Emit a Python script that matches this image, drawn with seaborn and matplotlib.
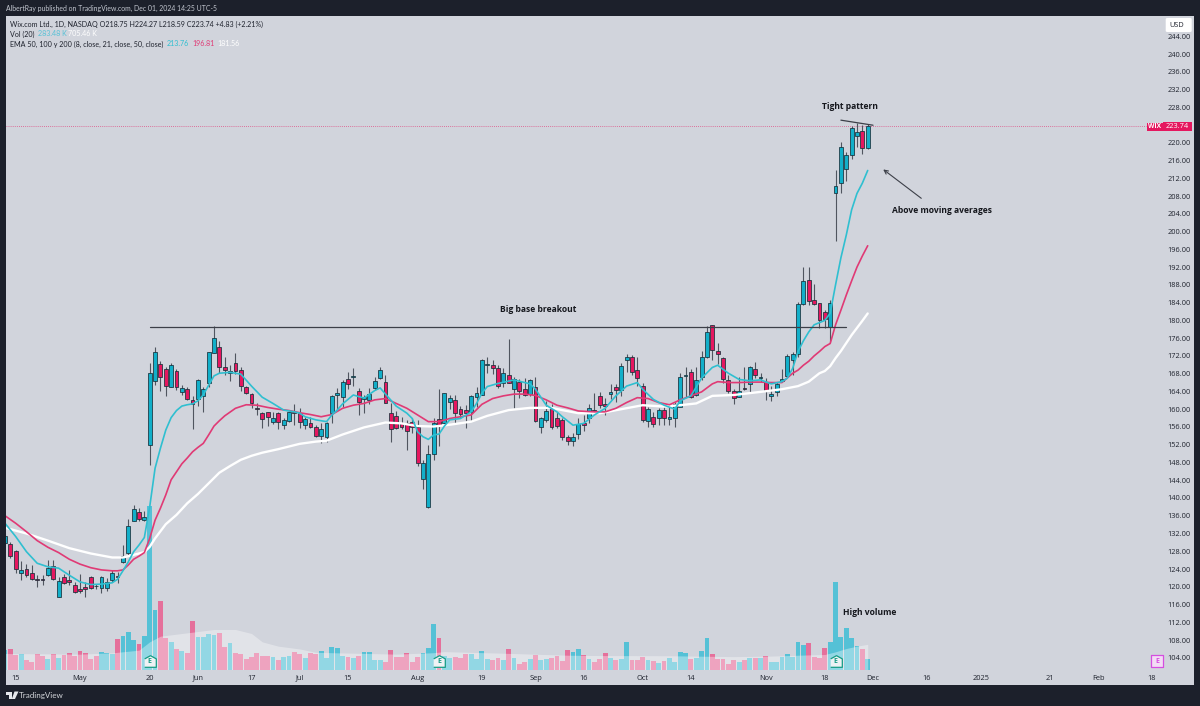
import numpy as np
import pandas as pd
import matplotlib
matplotlib.use("Agg")
import matplotlib.pyplot as plt
from matplotlib.patches import Rectangle, FancyBboxPatch, Polygon
import seaborn as sns

# daily bars, index 0 = May 20
bars = list(range(-27, 135))

opens = [
    129.9, 129.6, 128.1, 123.1, 123.9, 123.1, 121.8, 121.8, 122.6, 124.6,
    117.8, 122.3, 121.5, 120.3, 119.4, 120.0, 122.1, 120.2, 119.8, 119.8,
    121.5, 122.4, 125.6, 127.5, 134.9, 136.8, 135.1, 152.0, 166.3, 170.2,
    169.0, 165.1, 168.5, 163.9, 164.6, 162.1, 162.3, 163.0, 165.8, 172.6,
    174.0, 169.6, 168.1, 170.5, 168.9, 164.9, 163.4, 160.3, 159.2, 159.3,
    157.2, 159.1, 156.4, 157.4, 159.4, 159.2, 156.4, 157.0, 155.9, 153.9,
    153.8, 159.2, 163.3, 162.8, 166.8, 167.3, 164.2, 162.2, 162.0, 164.8,
    167.0, 166.1, 159.2, 158.4, 156.8, 157.0, 157.2, 156.0, 144.3, 137.9,
    149.9, 157.9, 157.0, 161.7, 162.1, 160.0, 159.8, 159.3, 162.8, 163.3,
    170.0, 169.9, 169.3, 166.0, 167.7, 164.5, 166.1, 164.6, 163.4, 164.9,
    156.0, 157.5, 160.3, 158.0, 157.6, 153.7, 152.8, 154.5, 157.0, 158.0,
    159.8, 163.0, 161.2, 163.5, 165.0, 164.3, 171.1, 171.7, 168.8, 165.2,
    157.4, 158.2, 158.0, 159.8, 157.7, 158.0, 160.6, 167.4, 168.4, 163.3,
    167.3, 171.7, 179.0, 173.0, 171.5, 166.6, 164.0, 162.8, 164.7, 165.7,
    169.0, 167.0, 166.1, 163.0, 163.8, 166.3, 167.5, 171.1, 172.4, 183.6,
    189.0, 184.5, 184.0, 181.8, 178.6, 208.8, 210.9, 214.0, 217.3, 221.5, 222.7, 218.75,
]
highs = [
    132.1, 130.2, 128.3, 125.8, 125.1, 124.9, 122.6, 122.6, 126.1, 126.1,
    122.1, 122.9, 123.8, 121.1, 122.9, 121.1, 122.4, 120.6, 122.4, 122.0,
    123.7, 123.4, 129.4, 135.3, 138.4, 137.8, 137.0, 170.4, 174.0, 170.9,
    169.6, 170.3, 169.0, 165.4, 165.1, 163.0, 166.7, 165.1, 172.8, 178.7,
    175.4, 171.7, 170.0, 172.6, 169.6, 165.2, 163.6, 161.3, 159.4, 159.4,
    159.4, 159.4, 158.1, 159.4, 161.2, 160.2, 158.2, 158.2, 156.4, 156.8,
    157.2, 163.2, 164.8, 166.6, 168.4, 169.2, 164.8, 163.2, 164.7, 167.2,
    169.6, 167.7, 161.3, 159.7, 158.2, 157.6, 158.0, 157.6, 148.6, 151.9,
    158.0, 164.5, 163.7, 163.2, 163.2, 160.7, 160.9, 163.2, 165.1, 171.2,
    171.8, 171.1, 170.0, 169.2, 175.7, 167.2, 166.7, 167.0, 166.9, 167.2,
    158.3, 161.8, 161.2, 159.4, 158.0, 154.2, 154.6, 158.0, 158.6, 161.1,
    163.6, 163.9, 162.5, 165.7, 165.7, 170.3, 172.4, 172.2, 171.7, 165.8,
    160.4, 159.4, 160.2, 160.6, 160.6, 161.7, 168.1, 169.6, 169.0, 169.4,
    173.2, 178.7, 179.0, 174.8, 171.8, 167.7, 164.5, 167.3, 169.4, 169.7,
    170.7, 168.2, 167.0, 165.2, 166.2, 169.0, 172.4, 172.9, 184.2, 192.0,
    192.0, 188.2, 184.0, 182.3, 184.6, 213.9, 220.1, 217.9, 223.8, 224.4, 224.0, 224.27,
]
lows = [
    129.6, 126.5, 123.2, 121.5, 122.3, 121.5, 120.0, 120.4, 122.4, 121.5,
    117.8, 120.6, 120.4, 118.7, 118.7, 117.6, 119.4, 119.6, 118.7, 119.1,
    121.1, 120.9, 125.4, 127.2, 134.9, 134.9, 134.9, 147.5, 165.4, 164.1,
    163.0, 165.1, 164.3, 163.3, 162.1, 155.5, 160.7, 159.3, 165.1, 172.6,
    168.2, 167.7, 166.3, 167.9, 164.1, 163.4, 160.2, 158.7, 155.8, 156.2,
    156.7, 155.5, 155.5, 157.2, 156.4, 155.7, 155.5, 155.7, 153.8, 152.4,
    152.7, 157.0, 159.8, 160.6, 164.5, 165.2, 158.8, 159.1, 161.2, 164.3,
    166.7, 161.3, 152.5, 155.5, 155.5, 150.8, 154.7, 147.1, 142.0, 137.8,
    148.6, 151.6, 156.7, 160.0, 156.8, 158.1, 155.7, 157.4, 160.6, 163.2,
    168.1, 167.9, 164.7, 165.1, 165.8, 160.2, 162.5, 162.9, 162.9, 157.2,
    154.7, 157.2, 155.5, 155.7, 153.1, 151.9, 151.6, 153.2, 155.1, 156.8,
    159.1, 160.2, 158.6, 162.2, 161.7, 162.9, 168.3, 167.7, 165.2, 157.2,
    155.9, 156.0, 156.4, 156.4, 156.4, 155.9, 160.4, 162.7, 162.5, 162.9,
    166.6, 171.5, 171.1, 170.1, 165.8, 163.7, 161.2, 162.7, 164.3, 163.7,
    167.0, 166.2, 162.1, 161.9, 162.9, 166.1, 167.3, 167.7, 171.8, 183.5,
    183.5, 183.5, 178.4, 178.2, 175.2, 197.9, 208.6, 211.5, 216.3, 219.1, 217.4, 218.59,
]
closes = [
    131.4, 127.0, 124.0, 123.7, 122.6, 121.7, 121.5, 121.5, 124.3, 121.7,
    121.3, 120.8, 121.1, 118.8, 119.0, 119.5, 119.8, 120.1, 122.1, 121.1,
    123.0, 122.2, 127.0, 133.6, 137.5, 135.2, 135.7, 168.1, 172.9, 167.2,
    165.2, 169.9, 164.9, 164.8, 162.2, 161.1, 166.5, 164.5, 172.8, 176.0,
    169.6, 168.8, 168.5, 168.7, 165.2, 163.6, 161.3, 160.0, 157.9, 158.3,
    158.1, 157.2, 157.5, 159.3, 159.1, 157.2, 157.7, 156.0, 154.0, 155.6,
    156.8, 163.0, 163.7, 166.1, 165.6, 167.5, 161.7, 162.7, 163.4, 166.3,
    168.8, 161.5, 155.5, 155.8, 155.9, 155.0, 155.9, 147.8, 147.9, 149.8,
    157.0, 156.4, 163.6, 162.5, 159.1, 158.9, 159.1, 162.9, 163.7, 171.1,
    170.1, 169.2, 165.2, 168.1, 165.9, 166.8, 164.0, 163.3, 166.6, 157.4,
    158.0, 159.5, 156.0, 156.3, 153.7, 152.8, 153.8, 156.7, 156.5, 160.2,
    159.6, 160.9, 160.7, 163.8, 164.3, 169.8, 171.7, 168.3, 167.1, 157.6,
    160.0, 156.7, 159.8, 158.0, 158.2, 161.2, 167.2, 167.6, 162.7, 166.6,
    171.8, 177.3, 173.3, 172.4, 166.8, 164.0, 162.5, 164.2, 164.5, 169.6,
    167.8, 167.2, 164.0, 163.4, 165.7, 166.8, 172.0, 172.5, 183.7, 188.9,
    184.4, 183.8, 180.0, 180.3, 184.0, 210.2, 219.1, 217.2, 223.4, 222.4, 218.8, 223.74,
]
# volume in thousands
volumes = [
    541, 569, 401, 439, 280, 215, 439, 373, 308, 429,
    336, 401, 476, 373, 522, 457, 308, 383, 485, 467,
    448, 858, 942, 1045, 830, 709, 942, 4572, 1679, 1913,
    877, 774, 588, 513, 467, 1372, 914, 914, 989, 961,
    1036, 634, 746, 467, 439, 308, 355, 467, 373, 392,
    355, 280, 355, 373, 485, 429, 336, 457, 429, 513,
    336, 625, 606, 383, 364, 317, 383, 485, 495, 271,
    261, 224, 541, 355, 355, 457, 215, 355, 467, 616,
    1269, 896, 373, 317, 355, 336, 439, 429, 299, 513,
    289, 261, 336, 261, 578, 336, 168, 205, 289, 411,
    271, 299, 317, 383, 252, 541, 485, 578, 411, 289,
    215, 308, 457, 317, 261, 308, 765, 261, 261, 345,
    280, 243, 196, 252, 336, 205, 504, 476, 289, 336,
    513, 896, 429, 289, 289, 149, 261, 215, 280, 317,
    317, 317, 373, 215, 215, 345, 439, 364, 784, 681,
    746, 345, 327, 597, 765, 2454, 905, 1176, 886, 672, 569, 283.48,
]

vol_ma_bars = [-27, -13, -7, -2, 0, 2, 7, 12, 16, 19, 21, 24, 28, 31, 46, 53, 55, 65, 78,
               84, 97, 109, 116, 121, 126, 128, 130, 132, 134]
vol_ma = [448, 429, 466, 541, 775, 933, 1026, 1120, 1120, 1008, 774, 653, 575, 480, 430, 470, 500, 460, 400,
          390, 385, 360, 375, 400, 420, 495, 588, 653, 705.46]

ema8_bars = [-27, -25, -23, -21, -19, -17, -15, -13, -11, -9, -7, -6, -5, -4, -3, -2, -1,
             0, 1, 2, 3, 4, 5, 6, 7, 8, 9, 10, 11, 12, 13, 15, 17, 19, 21, 23, 25, 27, 28, 29,
             31, 33, 34, 35, 36, 38, 40, 42, 43, 44, 46, 48, 49, 50, 51, 52, 53, 54, 55, 56, 58,
             60, 61, 62, 63, 65, 68, 71, 72, 74, 76, 77, 79, 81, 83, 85, 87, 89, 91, 92, 94, 96,
             98, 99, 101, 103, 105, 106, 108, 110, 112, 114, 116, 118, 119, 120, 121, 122, 123,
             124, 125, 126, 127, 128, 129, 130, 131, 132, 133, 134]
ema8 = [134.3, 131.3, 127.9, 125.3, 124.5, 124.2, 122.6, 121.1, 120.5, 120.6, 120.9, 121.7, 123.6, 125.6, 127.9, 129.4, 131.1,
        138.0, 146.7, 151.2, 155.3, 158.1, 159.7, 160.7, 161.0, 161.2, 161.9, 163.2, 165.4, 167.5, 168.1, 168.3, 167.9, 165.2, 162.7, 161.3, 159.8, 159.4, 159.1, 158.3,
        157.6, 157.2, 158.7, 159.8, 161.2, 163.2, 162.5, 164.2, 164.8, 163.4, 160.7, 159.1, 157.9, 154.9, 153.8, 153.2, 154.2, 154.4, 156.2, 157.6, 157.9,
        159.4, 161.3, 163.6, 165.1, 165.8, 166.6, 165.7, 164.5, 160.9, 159.4, 158.3, 156.4, 156.8, 158.7, 160.2, 163.0, 165.2, 166.0, 164.5, 162.2, 160.9,
        160.0, 161.9, 163.0, 167.0, 169.4, 169.9, 168.1, 166.7, 166.4, 166.6, 165.7, 166.2, 167.0, 169.2, 173.0, 175.4, 177.4,
        179.0, 179.5, 180.0, 181.6, 188.0, 194.1, 199.2, 204.9, 208.6, 210.9, 213.76]

ema21_bars = [-27, -25, -23, -21, -19, -17, -15, -13, -11, -9, -7, -6, -5, -4, -3, -2, -1,
              0, 1, 2, 3, 4, 5, 6, 7, 8, 9, 10, 11, 12, 13, 14, 16, 18, 20, 22, 24, 26, 28, 30,
              32, 34, 36, 38, 40, 42, 44, 46, 48, 50, 52, 54, 56, 58, 60, 62, 64, 66, 68, 70, 72,
              74, 76, 78, 80, 83, 85, 87, 89, 91, 93, 95, 97, 99, 101, 103, 105, 106, 108, 110,
              112, 114, 116, 118, 120, 121, 122, 123, 124, 125, 126, 127, 128, 129, 130, 131,
              132, 133, 134]
ema21 = [136.0, 134.3, 132.4, 130.4, 128.9, 127.7, 126.2, 125.1, 124.3, 123.8, 123.6, 123.6, 123.8, 124.9, 126.2, 126.9, 127.7,
         130.9, 135.0, 137.7, 140.7, 144.1, 145.9, 147.7, 149.0, 150.4, 151.4, 152.3, 154.2, 156.2, 157.4, 158.5, 160.2, 161.0, 160.9, 160.4, 160.0, 159.7, 159.2, 158.8,
         158.3, 158.8, 160.2, 160.9, 161.3, 162.1, 162.4, 161.3, 160.2, 158.7, 157.2, 157.2, 157.9, 158.3, 158.7, 161.1, 162.4, 163.0, 163.4, 163.4, 163.1,
         162.1, 160.9, 160.3, 159.6, 159.4, 159.4, 160.2, 161.5, 162.6, 162.4, 161.5, 161.0, 162.1, 163.0, 163.9, 165.7, 166.2, 166.0, 166.0,
         166.1, 166.1, 166.0, 166.0, 168.1, 168.8, 169.9, 170.8, 172.0, 173.0, 174.1, 174.8, 179.0, 182.3, 185.7, 188.9,
         192.0, 194.5, 196.81]

ema50_bars = [-27, -23, -19, -15, -11, -7, -5, -3, -1, 0, 1, 3, 5, 7, 9, 11, 13, 15, 17, 19, 21, 24, 28,
              31, 33, 36, 40, 44, 47, 50, 53, 56, 60, 63, 67, 71, 75, 77, 80, 84, 88, 92, 96, 99, 102,
              105, 109, 114, 118, 121, 123, 125, 126, 127, 128, 129, 130, 131, 132, 133, 134]
ema50 = [133.3, 132.0, 130.4, 128.7, 127.5, 126.6, 126.6, 127.2, 127.8, 129.0, 130.9, 134.1, 136.2, 138.8, 140.9, 143.3, 145.7, 147.2, 148.6, 149.5, 150.2, 151.0, 152.2,
         152.7, 152.9, 154.3, 155.9, 157.0, 156.8, 156.2, 156.1, 156.5, 157.2, 158.5, 159.8, 160.3, 160.3, 159.8, 159.1, 159.1, 160.0, 160.9, 160.6, 160.9, 161.3,
         163.0, 163.2, 163.9, 164.5, 165.2, 166.2, 168.1, 168.6, 169.7, 171.5, 173.1, 174.9, 176.7, 178.3, 179.9, 181.56]

price_ticks = list(range(104, 248, 4))
date_ticks = [-25, -13, 0, 9, 19.1, 28, 37, 50, 62, 72, 81, 92, 101, 115, 126, 135, 145, 155.1, 168, 177, 187]
date_labels = ["15", "May", "20", "Jun", "17", "Jul", "15", "Aug", "19", "Sep", "16", "Oct", "14", "Nov",
               "18", "Dec", "16", "2025", "21", "Feb", "18"]
earnings_bars = [0, 54, 128]

BG = "#1c202b"
PANEL = "#d1d4dc"
TEAL = "#12afc9"
RED = "#e5175f"
VOL_TEAL = "#55c1d6"
VOL_RED = "#e5709b"
LINE_TEAL = "#2fbfd0"
LINE_RED = "#e03a75"
INK = "#1e222d"

sns.set_theme(style="white")
plt.rcParams["font.family"] = ["Open Sans", "DejaVu Sans"]


def px(x, y):
    return x / 1200, 1 - y / 706


def header_text(x, y, s, color=INK, size=5.15, family="Lato", **kw):
    fx, fy = px(x, y)
    fig.text(fx, fy, s, color=color, fontsize=size, va="center", family=family, **kw)


fig = plt.figure(figsize=(12, 7.06), dpi=100, facecolor=BG)
vol_ax = fig.add_axes([6 / 1200, (706 - 685) / 706, 1188 / 1200, 669 / 706], facecolor=PANEL)
ax = vol_ax.twinx()
ax.set_zorder(vol_ax.get_zorder() + 1)
ax.patch.set_visible(False)

df = pd.DataFrame({"bar": bars, "open": opens, "high": highs, "low": lows, "close": closes, "volume": volumes})
df["up"] = df["close"] >= df["open"]

# volume
sns.barplot(data=df, x="bar", y="volume", hue="up", palette={True: VOL_TEAL, False: VOL_RED},
            native_scale=True, dodge=False, width=0.9, saturation=1, linewidth=0, legend=False, ax=vol_ax)
vol_ax.fill_between(vol_ma_bars, vol_ma, color="white", alpha=0.36, lw=0, zorder=4)
vol_ax.set_ylim(-434, 18298)

# candles
ax.vlines(df["bar"], df["low"], df["high"], color="#50555f", lw=0.8, zorder=2)
body_low = df[["open", "close"]].min(axis=1)
body_h = (df["close"] - df["open"]).abs()
ax.bar(df["bar"], body_h, bottom=body_low, width=0.72,
       color=np.where(df["up"], TEAL, RED), edgecolor="#17303a", linewidth=0.55, zorder=3)

# moving averages
sns.lineplot(x=ema50_bars, y=ema50, color="white", lw=1.7, sort=False, ax=ax, zorder=4)
sns.lineplot(x=ema21_bars, y=ema21, color=LINE_RED, lw=1.2, sort=False, ax=ax, zorder=5)
sns.lineplot(x=ema8_bars, y=ema8, color=LINE_TEAL, lw=1.2, sort=False, ax=ax, zorder=6)

# drawings
ax.plot([0, 130], [178.6, 178.6], color="#3c3f48", lw=0.9, zorder=7)
ax.plot([129, 135], [225.1, 223.96], color="#3c3f48", lw=0.9, zorder=7)
ax.annotate("", xy=(136.9, 214.0), xytext=(144, 207.5),
            arrowprops=dict(arrowstyle="->", color="#3c3f48", lw=0.8, mutation_scale=7, shrinkA=0, shrinkB=0),
            zorder=7)
ax.axhline(223.74, xmax=0.96, color=RED, lw=0.6, ls=(0, (1, 1.5)), alpha=0.7, zorder=1)
for x, y, s in [(72.5, 182.5, "Big base breakout"), (130.6, 228.1, "Tight pattern"),
                (147.9, 204.75, "Above moving averages"), (134.3, 114.2, "High volume")]:
    ax.text(x, y, s, color="#15171d", fontsize=6.1, fontweight="bold", ha="center", va="center", zorder=8)

# earnings badges
badge = [(-1, -1), (1, -1), (1, 0.45), (0, 1), (-1, 0.45)]
ax.scatter(earnings_bars, [103.3] * 3, marker=badge, s=70, facecolor="#eef2f4", edgecolor="#159c85",
           linewidth=0.9, zorder=8)
for b in earnings_bars:
    ax.text(b, 103.1, "E", color="#159c85", fontsize=5, fontweight="bold", ha="center", va="center", zorder=9)
ax.scatter([188], [103.2], marker="s", s=85, facecolor="#f3dcf5", edgecolor="#d54ee0", linewidth=0.9, zorder=8)
ax.text(188, 103.2, "E", color="#d54ee0", fontsize=5, fontweight="bold", ha="center", va="center", zorder=9)

# axes, ticks live inside the panel
ax.set_xlim(-26.82, 194.9)
ax.set_ylim(97.88, 248.56)
vol_ax.set_xlim(-26.82, 194.9)
ax.set_yticks(price_ticks)
ax.set_yticklabels([f"{p:.2f}" for p in price_ticks])
ax.tick_params(axis="y", length=0, pad=-19, labelsize=5.3, labelcolor=INK)
vol_ax.set_yticks([])
vol_ax.set_ylabel("")
ax.set_ylabel("")
vol_ax.set_xticks(date_ticks)
vol_ax.set_xticklabels(date_labels)
vol_ax.set_xlabel("")
vol_ax.tick_params(axis="x", length=0, pad=-7.5, labelsize=5.3, labelcolor=INK)
for a in (ax, vol_ax):
    for sp in a.spines.values():
        sp.set_visible(False)

# price scale labels
for rect in [(1146.7, 122.7, 16, 8), (1163.3, 122.2, 28.4, 9)]:
    fx, fy = px(rect[0], rect[1] + rect[3])
    fig.add_artist(Rectangle((fx, fy), rect[2] / 1200, rect[3] / 706, transform=fig.transFigure,
                             facecolor=RED, edgecolor="none", zorder=5))
header_text(1154.7, 126.7, "WIX", color="white", size=4.8, family="Open Sans", fontweight="bold", ha="center", zorder=6)
header_text(1177.5, 126.7, "223.74", color="white", size=5.3, family="Open Sans", ha="center", zorder=6)
fx, fy = px(1165.7, 32)
fig.add_artist(FancyBboxPatch((fx, fy), 26 / 1200, 14 / 706, boxstyle="round,pad=0,rounding_size=0.0015",
                              transform=fig.transFigure, facecolor="white", edgecolor="none", zorder=5))
header_text(1176.5, 25.5, "USD", size=5.3, family="Open Sans", ha="center", zorder=6)

# top strip and legend
header_text(6, 8, "AlbertRay published on TradingView.com, Dec 01, 2024 14:25 UTC-5", color="#c3c7d0", size=4.97)
header_text(10, 24, "Wix.com Ltd., 1D, NASDAQ O218.75 H224.27 L218.59 C223.74 +4.83 (+2.21%)")
header_text(10, 34, "Vol (20)")
header_text(38.5, 34, "283.48 K", color=VOL_TEAL)
header_text(68.5, 34, "705.46 K", color="white")
header_text(10, 44, "EMA 50, 100 y 200 (8, close, 21, close, 50, close)")
header_text(167, 44, "213.76", color=LINE_TEAL)
header_text(192, 44, "196.81", color=LINE_RED)
header_text(217, 44, "181.56", color="white")

# footer logo
logo = "#e6e8ec"
fig.add_artist(Polygon([px(6, 691.5), px(12, 691.5), px(12, 699), px(9, 699), px(9, 695), px(6, 695)],
                       transform=fig.transFigure, facecolor=logo, edgecolor="none", zorder=5))
fig.add_artist(Polygon([px(14.5, 691.5), px(18.5, 691.5), px(15, 699), px(11.8, 699)],
                       transform=fig.transFigure, facecolor=logo, edgecolor="none", zorder=5))
header_text(19, 695.5, "TradingView", color="#d4d6db", size=5.8)

plt.savefig("out.png", dpi=100, facecolor=BG)
